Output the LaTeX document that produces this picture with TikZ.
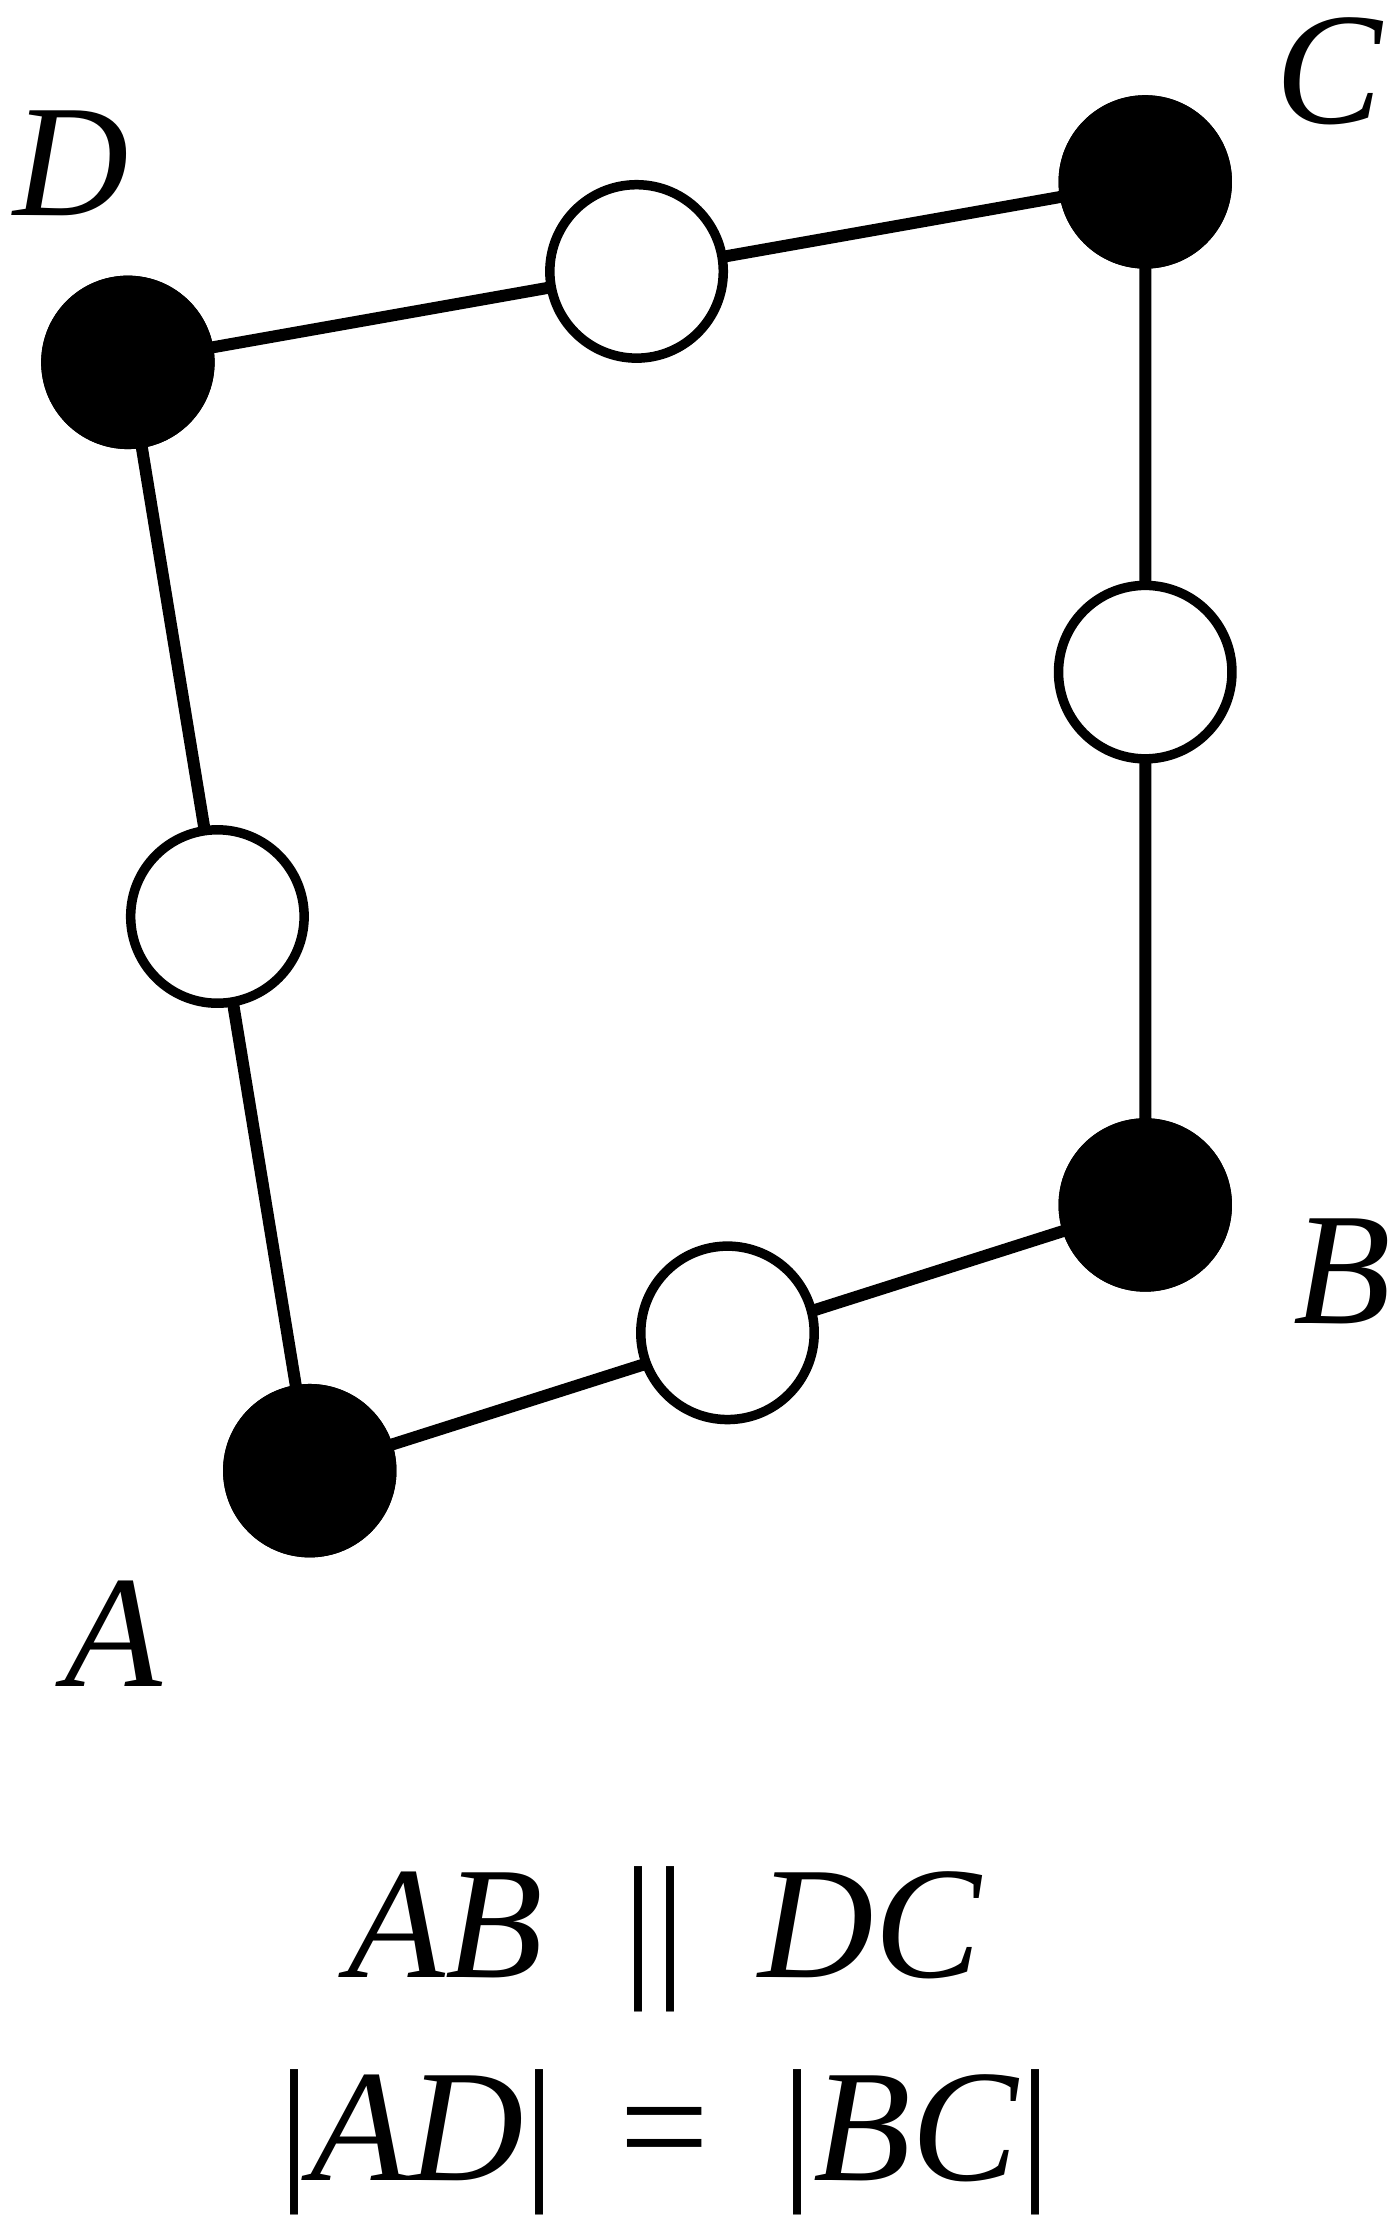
\documentclass[tikz,border=0pt]{standalone}
\usepackage{fontspec}
\setmainfont{Liberation Serif}
\begin{document}
\begin{tikzpicture}[x=0.01cm,y=-0.01cm,
  edge/.style={line width=2.4pt},
  vblack/.style={circle,fill=black,minimum size=1.22cm,inner sep=0pt},
  vwhite/.style={circle,draw=black,fill=white,line width=1.9pt,minimum size=1.22cm,inner sep=0pt},
  lab/.style={font=\fontsize{32}{38}\selectfont\itshape,inner sep=0pt},
  formula/.style={font=\fontsize{32}{38}\selectfont,inner sep=0pt}]
\useasboundingbox (0,0) rectangle (985,1568);
\node[vblack] (D) at (90,255) {};
\node[vblack] (C) at (806,128) {};
\node[vblack] (B) at (806,848) {};
\node[vblack] (A) at (218,1035) {};
\draw[edge] (D.center) -- (C.center) -- (B.center) -- (A.center) -- cycle;
\node[vblack] at (D) {};
\node[vblack] at (C) {};
\node[vblack] at (B) {};
\node[vblack] at (A) {};
\node[vwhite] (DC) at (448,191) {};
\node[vwhite] (CB) at (806,473) {};
\node[vwhite] (DA) at (153,645) {};
\node[vwhite] (AB) at (512,938) {};
\node[lab] (lD) at (50,115) {D};
\node[lab] (lC) at (935,50) {C};
\node[lab] (lB) at (945,895) {B};
\node[lab] (lA) at (80,1150) {A};
\node[formula] (t1) at (468,1365) {\textit{AB}\hspace{0.5em}||\hspace{0.45em}\textit{DC}};
\node[formula] (t2) at (468,1508) {|\textit{AD}|\hspace{0.4em}=\hspace{0.45em}|\textit{BC}|};
\end{tikzpicture}
\end{document}
